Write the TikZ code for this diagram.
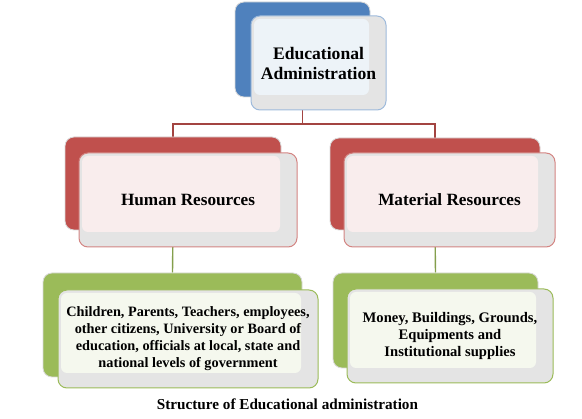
\documentclass[tikz,border=0pt]{standalone}
\usepackage{fontspec}
\setmainfont{Liberation Serif}
\usetikzlibrary{backgrounds}
\definecolor{adminblue}{HTML}{4F81BD}
\definecolor{adminred}{HTML}{C0504D}
\definecolor{admingreen}{HTML}{9BBB59}
\definecolor{frontgray}{HTML}{E4E4E4}

\begin{document}
\begin{tikzpicture}[x=1pt, y=-1pt,
    backbox/.style={fill=#1, draw=black!15, line width=0.8pt, rounded corners=9pt, inner sep=0pt},
    frontbox/.style 2 args={draw=#1, line width=1pt, fill=frontgray, rounded corners=9pt,
      inner sep=0pt, align=center, font=\bfseries,
      path picture={\fill[#2, rounded corners=6pt]
        ([shift={(3pt,-3pt)}]path picture bounding box.north west) rectangle
        ([shift={(-17pt,15pt)}]path picture bounding box.south east);}},
    redline/.style={draw=adminred!85!black, line width=1.4pt},
    greenline/.style={draw=admingreen!85!black, line width=1.4pt}]
    \useasboundingbox (0,0) rectangle (582,419);
    \node[backbox=adminblue, minimum width=135, minimum height=95] (topback) at (302.5,49.5) {};
    \node[frontbox={adminblue!55}{adminblue!10}, minimum width=135, minimum height=94,
      font=\bfseries\fontsize{17.6}{20}\selectfont] (admin) at (318.5,63) {Educational\\Administration};
    \node[backbox=adminred, minimum width=216, minimum height=93] (humanback) at (173,183.5) {};
    \node[frontbox={adminred!70}{adminred!10}, minimum width=218, minimum height=94,
      font=\bfseries\fontsize{17.2}{20}\selectfont] (human) at (188,200) {Human Resources};
    \node[backbox=adminred, minimum width=210, minimum height=92] (materialback) at (435,184) {};
    \node[frontbox={adminred!70}{adminred!10}, minimum width=211, minimum height=94,
      font=\bfseries\fontsize{17.2}{20}\selectfont] (material) at (449.5,200) {Material Resources};
    \node[backbox=admingreen, minimum width=259, minimum height=104] (humanlistback) at (172.5,325) {};
    \node[frontbox={admingreen}{admingreen!10}, minimum width=260, minimum height=98,
      font=\bfseries\fontsize{14.3}{17}\selectfont] (humanlist) at (188,339)
      {Children, Parents, Teachers, employees,\\other citizens, University or Board of\\education, officials at local, state and\\national levels of government};
    \node[backbox=admingreen, minimum width=205, minimum height=95] (materiallistback) at (435.5,320.5) {};
    \node[frontbox={admingreen}{admingreen!10}, minimum width=206, minimum height=94,
      font=\bfseries\fontsize{14.6}{17}\selectfont] (materiallist) at (450,336)
      {Money, Buildings, Grounds,\\Equipments and\\Institutional supplies};
    \node[font=\bfseries\fontsize{15.2}{17}\selectfont] (caption) at (287.5,404) {Structure of Educational administration};
    \coordinate (split) at (302.5,124);
    \begin{scope}[on background layer]
    \draw[redline] (topback.south) -- (split);
    \draw[redline] (humanback.north) |- (split) -| (materialback.north);
    \draw[greenline] (humanback.south) -- (humanlistback.north);
    \draw[greenline] (materialback.south) -- (materiallistback.north);
    \end{scope}
\end{tikzpicture}
\end{document}
